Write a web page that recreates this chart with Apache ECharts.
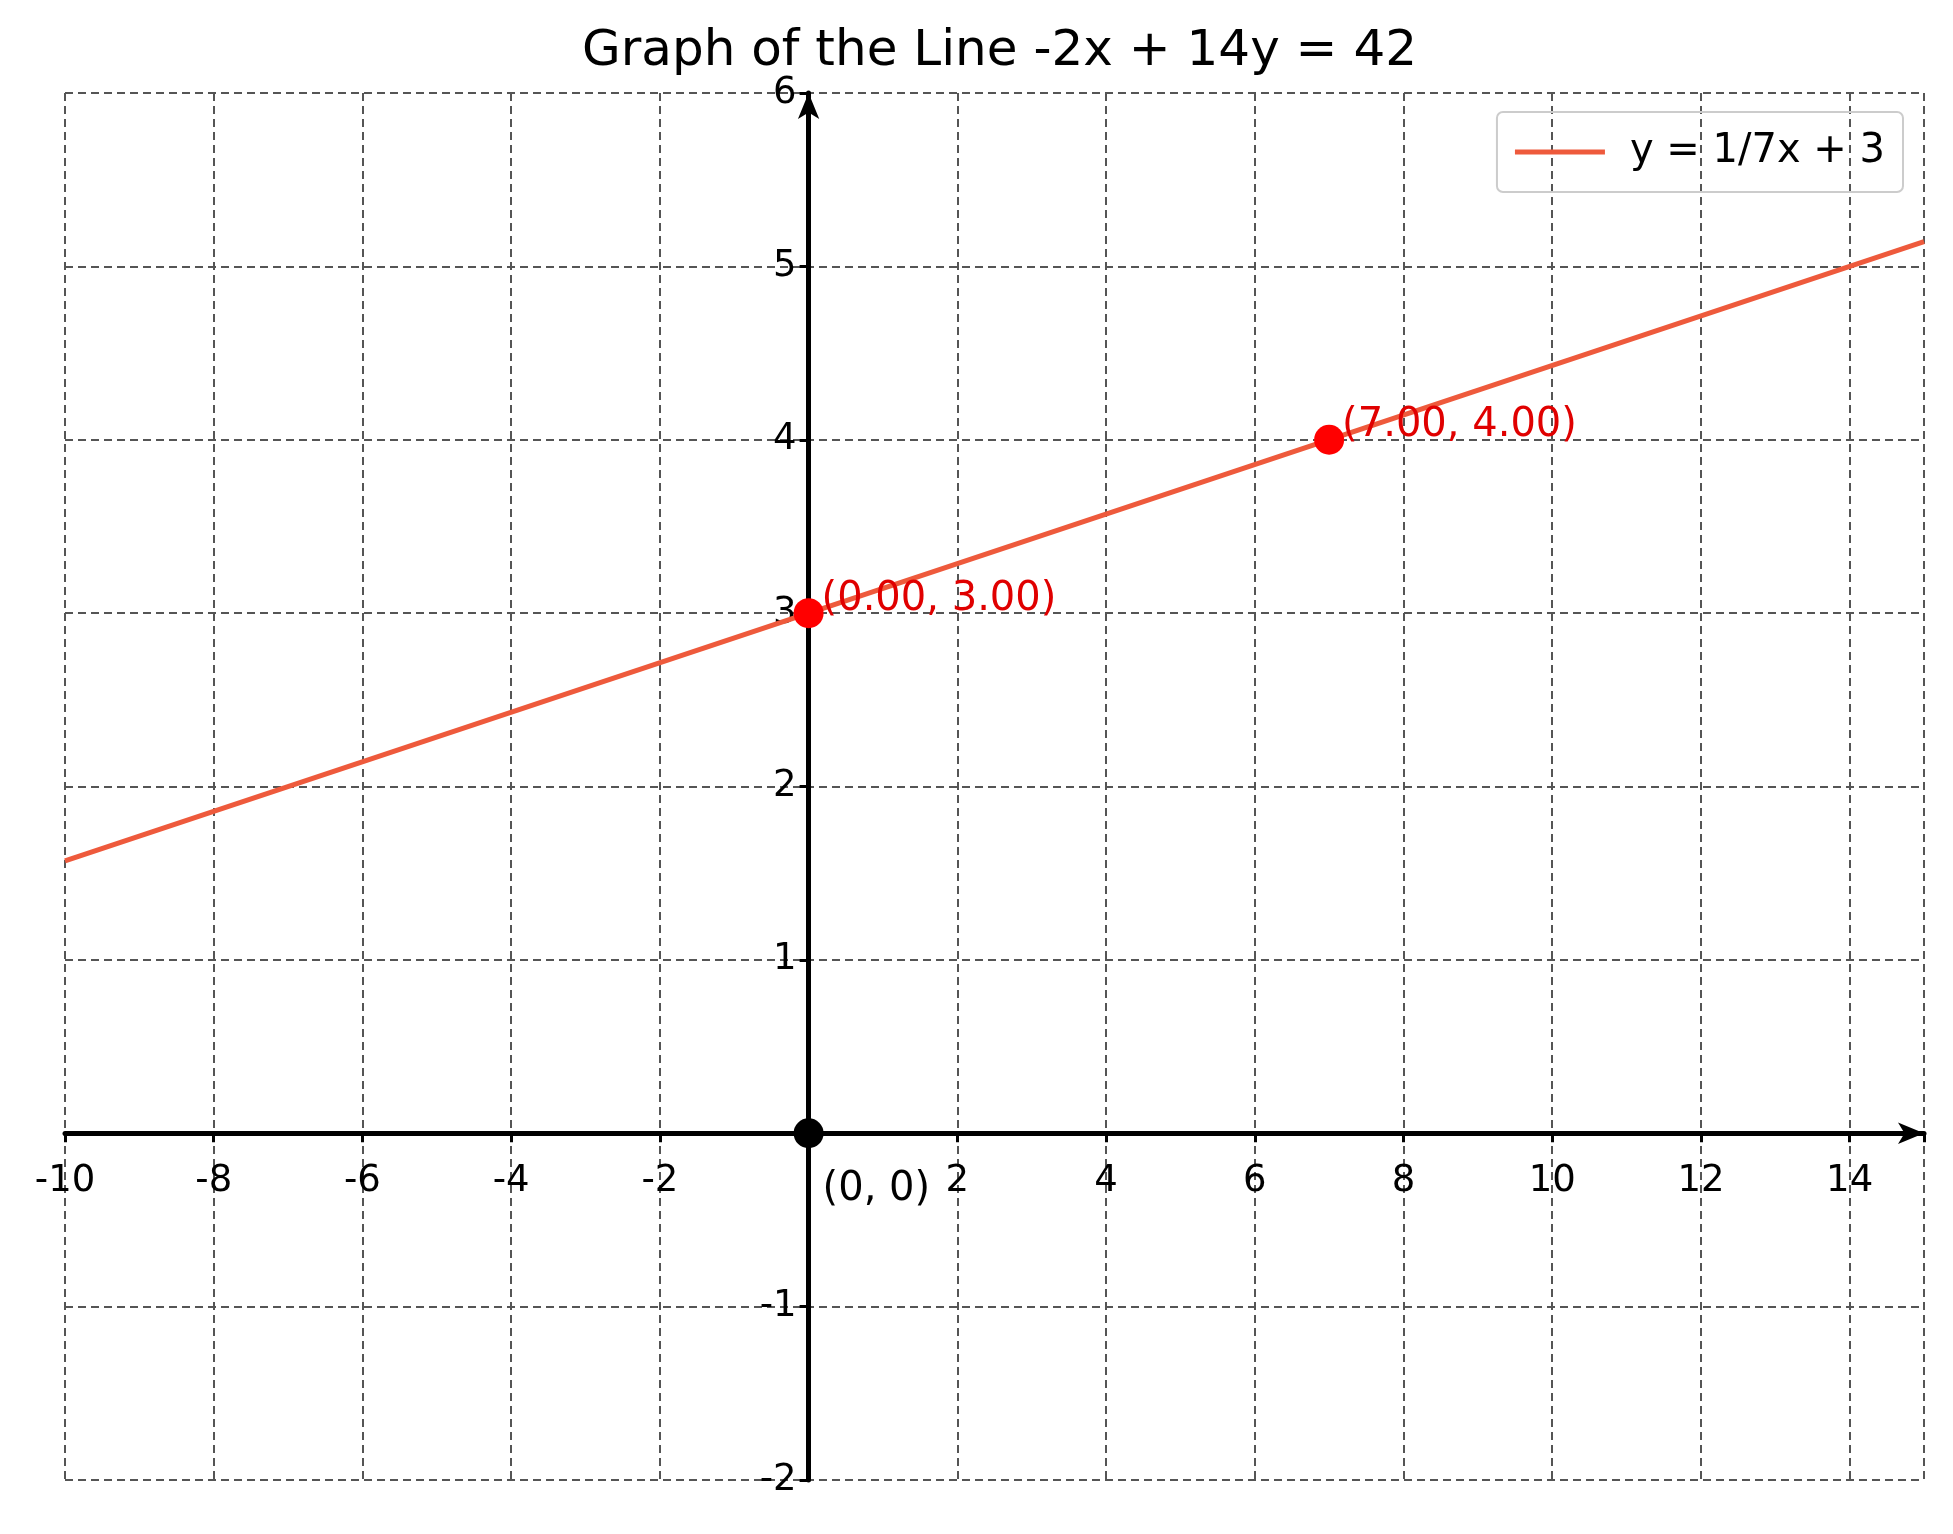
<!DOCTYPE html>
<html>
<head>
<meta charset="utf-8">
<script src="https://cdn.jsdelivr.net/npm/echarts@6/dist/echarts.min.js"></script>
<style>html,body{margin:0;padding:0;background:#fff}#chart{width:1953px;height:1534px}</style>
</head>
<body>
<div id="chart"></div>
<script>
// line y = 1/7x + 3, endpoints of the plotted segment
const lineX = [-10, 15];
const lineY = [1.571, 5.143];
// marked points
const redPoints = [[0, 3], [7, 4]];
const redLabels = ["(0.00, 3.00)", "(7.00, 4.00)"];
const originPoint = [0, 0];

const W = 1953, H = 1534;
const gridPos = { left: 65, right: 29, top: 93, bottom: 54 };
const xMin = -10, xMax = 15, yMin = -2, yMax = 6;
// shift axes so they cross at the origin (labels follow the shifted line)
const plotW = W - gridPos.left - gridPos.right;
const plotH = H - gridPos.top - gridPos.bottom;
const xAxisOffset = -(0 - yMin) / (yMax - yMin) * plotH;
const yAxisOffset = -(0 - xMin) / (xMax - xMin) * plotW;

const chart = echarts.init(document.getElementById("chart"));
const font = "DejaVu Sans";
const gridLine = { show: true, lineStyle: { color: "#555", type: [8, 5], width: 2 } };
const axisLineStyle = { show: true, onZero: false, symbol: ["none", "arrow"], symbolSize: [16, 26], lineStyle: { color: "#000", width: 5 } };
const tickStyle = { show: true, length: 9, lineStyle: { width: 3, color: "#000" } };

const option = {
  animation: false,
  textStyle: { fontFamily: font },
  title: {
    text: "Graph of the Line -2x + 14y = 42",
    left: 577, top: 22,
    textStyle: { fontSize: 50, fontWeight: "normal", color: "#000", fontFamily: font },
  },
  legend: {
    right: 50, top: 112,
    itemWidth: 90, itemHeight: 5, itemGap: 10,
    padding: [20, 18, 20, 18],
    borderColor: "#ccc", borderWidth: 2, borderRadius: 6,
    textStyle: { fontSize: 40, color: "#000", fontFamily: font, padding: [0, 0, 0, 20] },
    data: [{ name: "y = 1/7x + 3", icon: "rect" }],
  },
  grid: gridPos,
  xAxis: {
    type: "value", min: xMin, max: xMax, interval: 2,
    position: "bottom", offset: xAxisOffset,
    axisLine: axisLineStyle,
    axisTick: tickStyle,
    axisLabel: {
      fontSize: 37, color: "#000", margin: 30, fontFamily: font,
      formatter: v => (v === 0 || v === 15 ? "" : String(v)),
    },
    splitLine: gridLine,
  },
  yAxis: {
    type: "value", min: yMin, max: yMax, interval: 1,
    position: "left", offset: yAxisOffset,
    axisLine: axisLineStyle,
    axisTick: tickStyle,
    axisLabel: {
      fontSize: 37, color: "#000", margin: 12, fontFamily: font,
      formatter: v => (v === 0 ? "" : String(v)),
    },
    splitLine: gridLine,
  },
  series: [
    {
      name: "y = 1/7x + 3", type: "line",
      data: lineX.map((x, i) => [x, lineY[i]]),
      showSymbol: false, color: "#ee5a3c",
      lineStyle: { width: 5, color: "#ee5a3c" },
      z: 3,
    },
    {
      type: "scatter",
      data: redPoints.map((p, i) => ({ value: p, label: { formatter: redLabels[i] } })),
      symbolSize: 30, itemStyle: { color: "#ff0000", opacity: 1 },
      label: { show: true, position: "right", distance: 0, offset: [-2, -14], fontSize: 40, color: "#e00000", fontFamily: font },
      z: 4,
    },
    {
      type: "scatter",
      data: [originPoint],
      symbolSize: 30, itemStyle: { color: "#000", opacity: 1 },
      label: { show: true, formatter: "(0, 0)", position: "right", offset: [-6, 56], fontSize: 40, color: "#000", fontFamily: font },
      z: 5,
    },
  ],
};
chart.setOption(option);
</script>
</body>
</html>
